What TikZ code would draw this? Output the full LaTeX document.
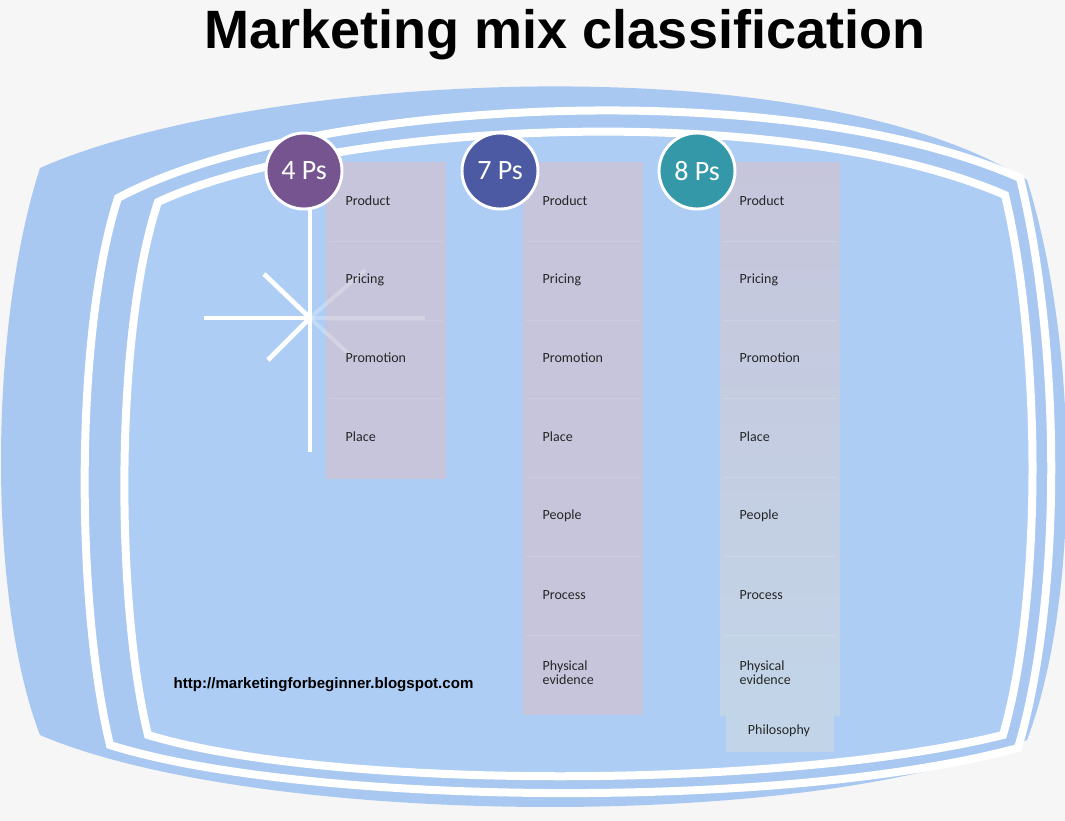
\documentclass[tikz,border=0pt]{standalone}
\usepackage{fontspec}
\setmainfont{Carlito}
\newfontfamily\titlefont{Liberation Sans}
\begin{document}
\begin{tikzpicture}[x=0.75pt,y=-0.75pt,
  itm/.style={anchor=west,font=\fontsize{10.5}{12.5}\selectfont,text=black!85,align=left},
  pcirc/.style={circle,draw=white,line width=2.2pt,minimum size=57pt,inner sep=0pt,text=white,font=\fontsize{21}{24}\selectfont},
  spark/.style={white,line width=3.5pt}]
\definecolor{bgout}{HTML}{F6F6F6}
\definecolor{frameblue}{HTML}{A8C8F2}
\definecolor{innerblue}{HTML}{AECDF5}
\definecolor{colfill}{HTML}{C6C5DB}
\definecolor{colfillb}{HTML}{C2D5E8}
\fill[bgout] (0,0) rectangle (1065,821);
\useasboundingbox (0,0) rectangle (1065,821);
% outer frame
\fill[frameblue] (40,168) .. controls (250,75) and (800,40) .. (1027,180)
  .. controls (1080,350) and (1080,600) .. (1027,740)
  .. controls (800,835) and (250,825) .. (40,735)
  .. controls (-12,600) and (-12,330) .. cycle;
% white stripes
\draw[white,line width=6pt] (118,198) .. controls (300,100) and (780,72) .. (1020,178)
  .. controls (1062,350) and (1062,600) .. (1018,748)
  .. controls (780,812) and (300,805) .. (110,745)
  .. controls (75,600) and (75,330) .. cycle;
\filldraw[fill=innerblue,draw=white,line width=6pt] (158,202) .. controls (330,122) and (780,98) .. (1005,195)
  .. controls (1042,350) and (1042,600) .. (1003,735)
  .. controls (780,790) and (330,790) .. (148,735)
  .. controls (115,600) and (115,330) .. cycle;
% title
\node (title) at (565,35) {\titlefont\bfseries\fontsize{40.5}{46}\selectfont Marketing mix classification};
% sparkle
\draw[spark] (310,210) -- (310,452);
\draw[spark] (204,318) -- (310,318);
\draw[spark] (264,274) -- (310,318);
\draw[spark] (268,360) -- (310,318);
% columns
\fill[colfill] (326,162) rectangle (446,479);
\fill[colfill] (523,162) rectangle (643,715);
\shade[top color=colfill,bottom color=colfillb] (720,162) rectangle (840,715);
\fill[colfillb] (726,712) rectangle (834,752);
\draw[white,opacity=0.25,line width=3pt] (310,318) -- (425,318);
\draw[white,opacity=0.25,line width=3pt] (310,318) -- (365,270);
\draw[white,opacity=0.25,line width=3pt] (310,318) -- (350,355);
\foreach \x in {326,523,720}{
  \foreach \y in {241,320,398,477,556,635}{
    \ifnum\x=326 \ifnum\y<470 \draw[white,opacity=0.15] (\x+3,\y) -- (\x+117,\y);\fi
    \else \draw[white,opacity=0.15] (\x+3,\y) -- (\x+117,\y);\fi
  }}
% items
\node[itm] (a1) at (341,201) {Product};
\node[itm] (a2) at (341,280) {Pricing};
\node[itm] (a3) at (341,358) {Promotion};
\node[itm] (a4) at (341,437) {Place};
\node[itm] (b1) at (538,201) {Product};
\node[itm] (b2) at (538,280) {Pricing};
\node[itm] (b3) at (538,358) {Promotion};
\node[itm] (b4) at (538,437) {Place};
\node[itm] (b5) at (538,516) {People};
\node[itm] (b6) at (538,595) {Process};
\node[itm] (b7) at (538,673) {Physical\\[-2pt]evidence};
\node[itm] (c1) at (735,201) {Product};
\node[itm] (c2) at (735,280) {Pricing};
\node[itm] (c3) at (735,358) {Promotion};
\node[itm] (c4) at (735,437) {Place};
\node[itm] (c5) at (735,516) {People};
\node[itm] (c6) at (735,595) {Process};
\node[itm] (c7) at (735,673) {Physical\\[-2pt]evidence};
\node[itm,anchor=center] (c8) at (779,731) {Philosophy};
% circles
\node[pcirc,fill={rgb,255:red,118;green,84;blue,144}] (p4) at (304,171) {4 Ps};
\node[pcirc,fill={rgb,255:red,75;green,90;blue,162}] (p7) at (500,171) {7 Ps};
\node[pcirc,fill={rgb,255:red,53;green,152;blue,168}] (p8) at (697,171) {8 Ps};
% url
\node[anchor=west] (url) at (169,685) {\titlefont\bfseries\fontsize{11.3}{13}\selectfont http://marketingforbeginner.blogspot.com};
\end{tikzpicture}
\end{document}
